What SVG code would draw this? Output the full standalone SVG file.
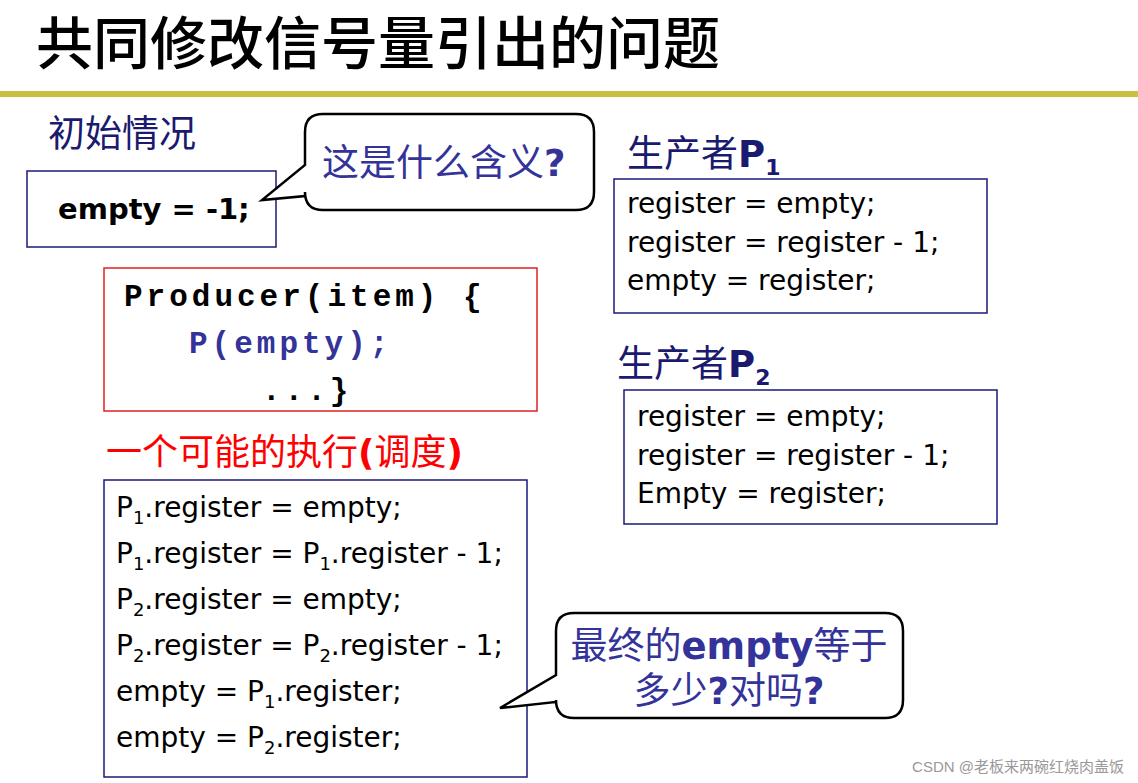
<svg xmlns="http://www.w3.org/2000/svg" width="1138" height="783" viewBox="0 0 1138 783">
<style>
.cjk{font-family:"DejaVu Sans","Noto Sans CJK SC",sans-serif}
.code{font-family:"DejaVu Sans","Noto Sans CJK SC",sans-serif;font-size:28px;fill:#000}
.mono{font-family:"Liberation Mono",monospace;font-size:31px;font-weight:bold;letter-spacing:4px}
.box{fill:#fff;stroke:#1A1A7A;stroke-width:1.5}
.call{fill:#fff;stroke:#000;stroke-width:2.5}
.q{fill:#333399;font-size:37px}
.navy{fill:#1A1A6E;font-size:37px}
</style>
<rect width="1138" height="783" fill="#fff"/>
<text x="36" y="64" font-size="57" fill="#000" font-family="Noto Sans CJK SC,sans-serif" font-weight="500">共同修改信号量引出的问题</text>
<rect x="0" y="91" width="1138" height="6" fill="#C8C040"/>
<g id="init">
<text x="48" y="147" class="cjk navy">初始情况</text>
<rect x="27" y="171" width="249" height="76" class="box"/>
<text x="58" y="219" class="cjk" font-size="29" font-weight="bold">empty = -1;</text>
</g>
<g id="callout1">
<path d="M323,114 H576 Q594,114 594,132 V192 Q594,210 576,210 H323 Q305,210 305,192 V196 L262,200 L305,165 V132 Q305,114 323,114 Z" class="call"/>
<text x="322" y="176" class="cjk q">这是什么含义<tspan font-weight="bold">?</tspan></text>
</g>
<g id="producer">
<rect x="104" y="268" width="433" height="143" fill="#fff" stroke="#E02020" stroke-width="1.5"/>
<text x="124" y="306" class="mono">Producer(item) {</text>
<text x="189" y="353" class="mono" fill="#333399">P(empty);</text>
<text x="262" y="400" class="mono">...}</text>
</g>
<g id="schedule">
<text x="106" y="465" class="cjk" font-size="36" fill="#FF0000">一个可能的执行<tspan font-weight="bold">(</tspan>调度<tspan font-weight="bold">)</tspan></text>
<rect x="104" y="480" width="423" height="297" class="box"/>
<text x="116" y="517" class="code">P<tspan font-size="18" dy="7">1</tspan><tspan dy="-7">.register = empty;</tspan></text>
<text x="116" y="563" class="code">P<tspan font-size="18" dy="7">1</tspan><tspan dy="-7">.register = P</tspan><tspan font-size="18" dy="7">1</tspan><tspan dy="-7">.register - 1;</tspan></text>
<text x="116" y="609" class="code">P<tspan font-size="18" dy="7">2</tspan><tspan dy="-7">.register = empty;</tspan></text>
<text x="116" y="655" class="code">P<tspan font-size="18" dy="7">2</tspan><tspan dy="-7">.register = P</tspan><tspan font-size="18" dy="7">2</tspan><tspan dy="-7">.register - 1;</tspan></text>
<text x="116" y="701" class="code">empty = P<tspan font-size="18" dy="7">1</tspan><tspan dy="-7">.register;</tspan></text>
<text x="116" y="747" class="code">empty = P<tspan font-size="18" dy="7">2</tspan><tspan dy="-7">.register;</tspan></text>
</g>
<g id="callout2">
<path d="M574,613 H885 Q903,613 903,631 V700 Q903,718 885,718 H574 Q556,718 556,700 V702 L500,708 L556,675 V631 Q556,613 574,613 Z" class="call"/>
<text x="729" y="659" class="cjk q" font-size="36" text-anchor="middle">最终的<tspan font-weight="bold">empty</tspan>等于</text>
<text x="729" y="704" class="cjk q" font-size="36" text-anchor="middle">多少<tspan font-weight="bold">?</tspan>对吗<tspan font-weight="bold">?</tspan></text>
</g>
<g id="p1">
<text x="627" y="167" class="cjk navy">生产者<tspan font-weight="bold">P</tspan><tspan font-weight="bold" font-size="22" dy="8">1</tspan></text>
<rect x="614" y="179" width="373" height="134" class="box"/>
<text x="627" y="213" class="code">register = empty;</text>
<text x="627" y="252" class="code">register = register - 1;</text>
<text x="627" y="290" class="code">empty = register;</text>
</g>
<g id="p2">
<text x="617" y="377" class="cjk navy">生产者<tspan font-weight="bold">P</tspan><tspan font-weight="bold" font-size="22" dy="8">2</tspan></text>
<rect x="624" y="390" width="373" height="134" class="box"/>
<text x="637" y="426" class="code">register = empty;</text>
<text x="637" y="465" class="code">register = register - 1;</text>
<text x="637" y="503" class="code">Empty = register;</text>
</g>
<text x="1124" y="772" font-size="15" fill="#999" text-anchor="end" font-family="Liberation Sans,Noto Sans CJK SC,sans-serif">CSDN @老板来两碗红烧肉盖饭</text>
</svg>
